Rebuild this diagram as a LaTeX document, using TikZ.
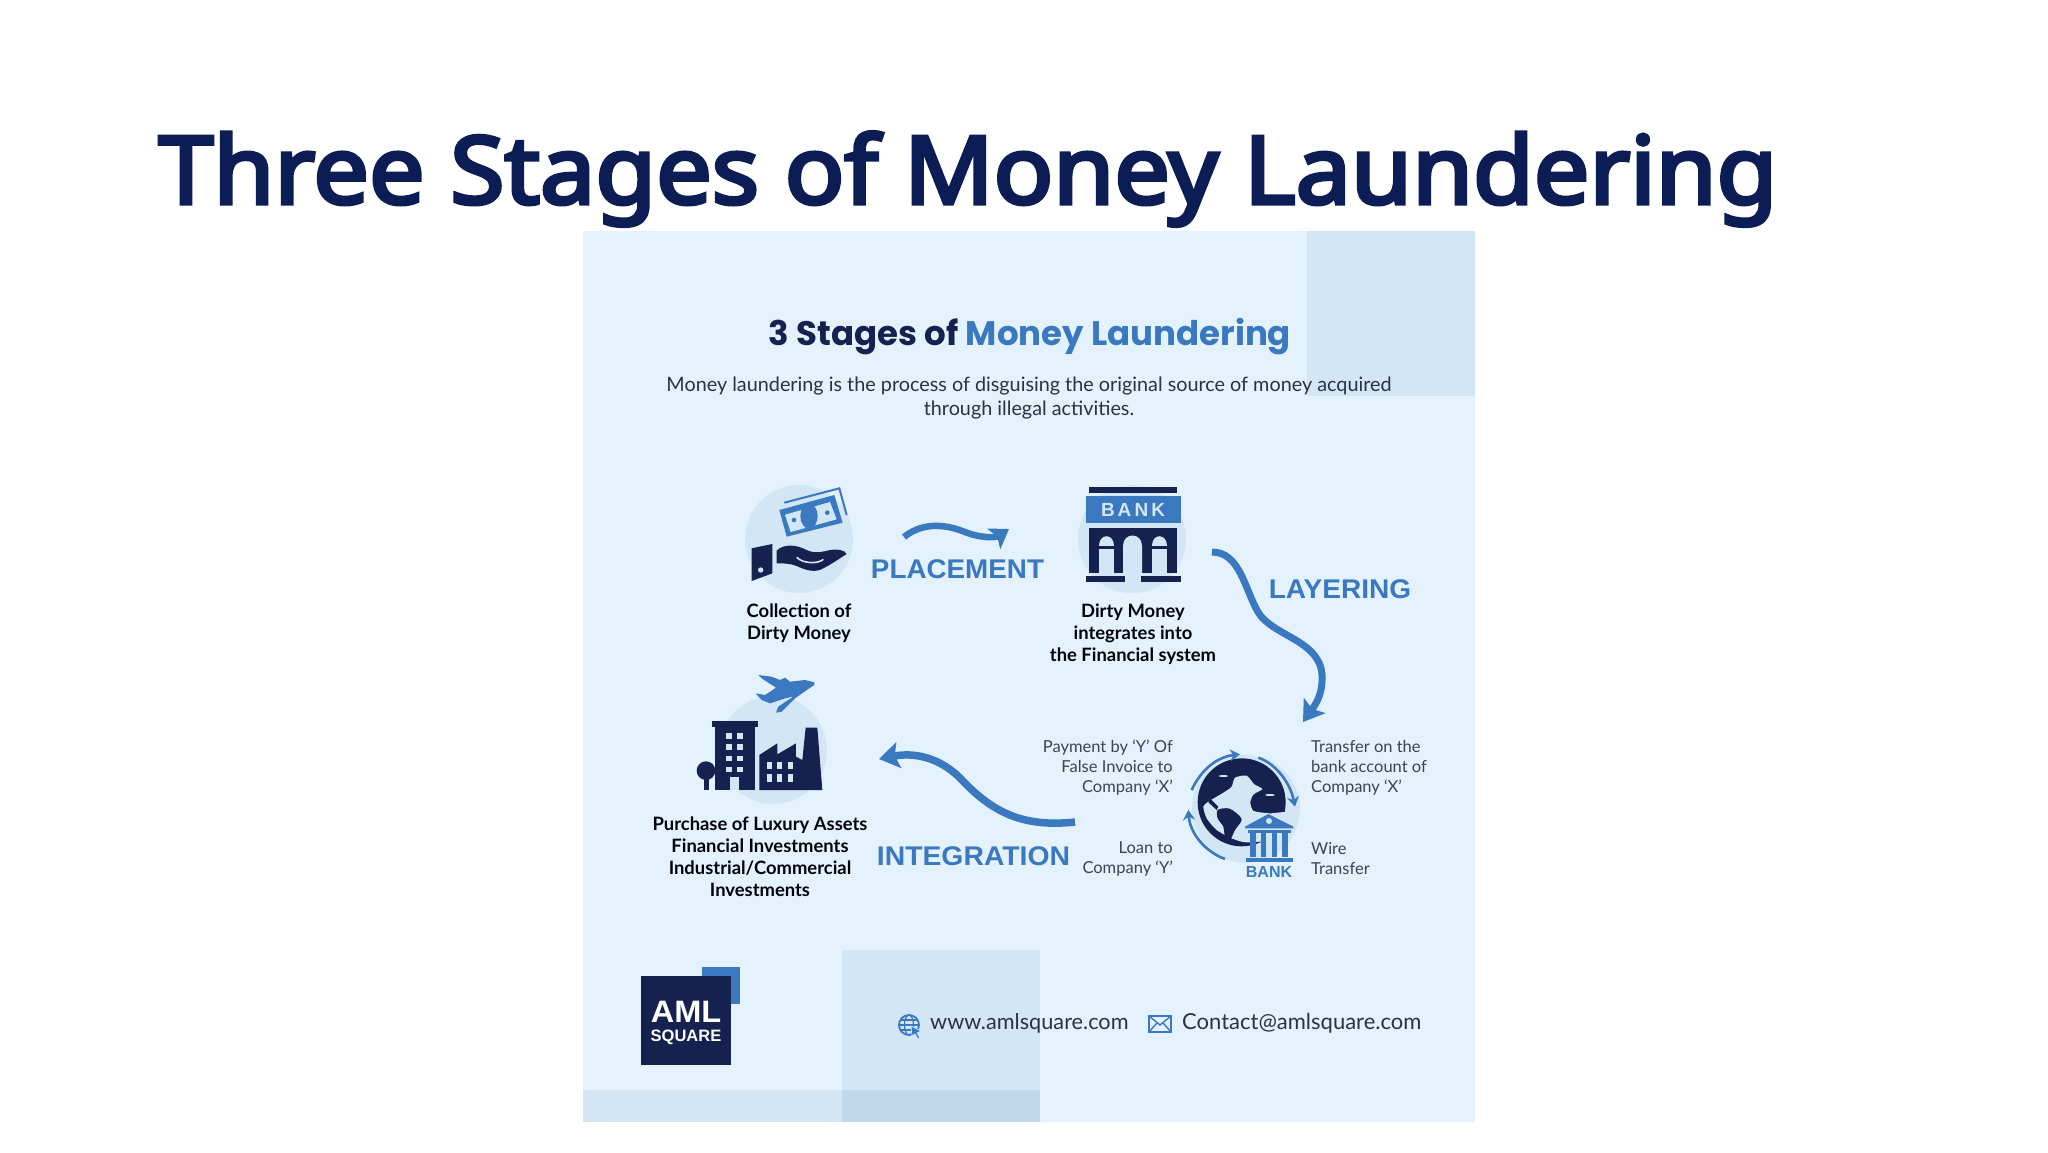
\documentclass[tikz,border=0pt]{standalone}
\usepackage{fontspec}
\setmainfont{Lato}
\newfontfamily\titlef{Noto Sans}[FakeBold=4]
\newfontfamily\headf{Poppins}
\newfontfamily\labf{Liberation Sans}
\usetikzlibrary{arrows.meta}
\definecolor{panel}{HTML}{E3F2FD}
\definecolor{tint}{HTML}{D2E6F5}
\definecolor{tintb}{HTML}{C0D8EC}
\definecolor{navy}{HTML}{15214F}
\definecolor{titlec}{HTML}{0C1D55}
\definecolor{acc}{HTML}{3A78C0}
\definecolor{graytxt}{HTML}{3C4258}
\definecolor{subc}{HTML}{2B3248}
\tikzset{
  icon/.style={shift={#1},scale=0.3333},
  dk/.style={fill=navy},
  bl/.style={fill=acc},
  lt/.style={fill=tint},
  stagelabel/.style={inner sep=0,text=acc,font=\labf\bfseries\fontsize{27}{27}\selectfont},
  caption/.style={inner sep=0,align=center,text=black!90!navy,font=\bfseries\fontsize{18.4}{22}\selectfont},
  notel/.style={inner sep=0,anchor=west,align=left,text=graytxt,font=\fontsize{16.5}{20}\selectfont},
  noter/.style={inner sep=0,anchor=east,align=right,text=graytxt,font=\fontsize{16.5}{20}\selectfont},
  flow/.style={draw=acc,line width=#1},
  smallarc/.style={draw=acc,line width=2.6pt,-{Stealth[length=10pt,width=12pt]}},
}
\begin{document}
\begin{tikzpicture}[x=1pt,y=-1pt]
\useasboundingbox (0,0) rectangle (2048,1152);
\fill[white] (0,0) rectangle (2048,1152);
% panel
\fill[panel] (583,231) rectangle (1475,1122);
\fill[tint] (1307,231) rectangle (1475,396);
\fill[tint] (842,950) rectangle (1040,1122);
\fill[tint] (583,1090) rectangle (1040,1122);
\fill[tintb] (842,1090) rectangle (1040,1122);
% titles
\node[inner sep=0,text=titlec,xscale=1.05,font=\titlef\fontsize{94}{94}\selectfont] (title) at (968,179) {Three Stages of Money Laundering};
\node[inner sep=0,font=\headf\bfseries\fontsize{34}{34}\selectfont] (head) at (1030,337) {\textcolor{navy}{3 Stages of} \textcolor{acc}{Money Laundering}};
\node[inner sep=0,align=center,text=subc,font=\fontsize{19.8}{24.5}\selectfont] (sub) at (1029,398) {Money laundering is the process of disguising the original source of money acquired\\through illegal activities.};
% money icon
\fill[lt] (799,539) circle[radius=54];
\begin{scope}[icon={(740,480)}]
\draw[acc,line width=2pt] (133,68) -- (298,25) -- (320,105);
\fill[bl] (118,90) -- (283,45) -- (308,128) -- (140,170) -- cycle;
\fill[lt] (135,104) -- (270,66) -- (290,118) -- (152,156) -- cycle;
\fill[bl] (207,108) ellipse[x radius=26,y radius=38];
\fill[bl] (162,120) circle[radius=7];
\fill[bl] (262,98) circle[radius=7];
\fill[dk] (35,205) -- (97,192) -- (97,280) -- (35,303) -- cycle;
\fill[lt] (62,270) circle[radius=8];
\fill[dk] (110,212) .. controls (130,192) and (165,192) .. (200,210) .. controls (225,222) and (250,215) .. (270,210) .. controls (290,206) and (315,210) .. (320,222) .. controls (300,235) and (270,255) .. (250,265) .. controls (225,280) and (195,270) .. (170,258) .. controls (150,250) and (130,250) .. (110,250) -- cycle;
\draw[tint,line width=1.6pt] (170,232) .. controls (190,252) and (235,252) .. (250,238);
\end{scope}
\node[caption] (cap1) at (799,623) {Collection of\\Dirty Money};
% bank icon
\fill[lt] (1132,539) circle[radius=54];
\fill[dk] (1089,487) rectangle (1177,493);
\fill[bl] (1086,496) rectangle (1181,523);
\node[inner sep=0,text=tint,font=\labf\bfseries\fontsize{19}{19}\selectfont] (banktxt) at (1133,510) {\addfontfeature{LetterSpace=16}BANK};
\fill[dk] (1089,528) rectangle (1177,573);
\foreach \xa/\xb in {1099/1114,1152/1167}{
  \fill[lt] (\xa,546) .. controls (\xa,533) and (\xb,533) .. (\xb,546) -- cycle;
  \fill[lt] (\xa,549) rectangle (\xb,573);
}
\fill[lt] (1123,573) -- (1123,546) .. controls (1123,532) and (1142,532) .. (1142,546) -- (1142,573) -- cycle;
\fill[dk] (1086,576) rectangle (1125,582);
\fill[dk] (1141,576) rectangle (1181,582);
\node[caption] (cap2) at (1133,634) {Dirty Money\\integrates into\\the Financial system};
% flows
\coordinate (pa) at (904,537);
\coordinate (pb) at (1009,529);
\draw[flow=6.5pt,-{Stealth[length=18pt,width=24pt,inset=4pt]}] (pa) .. controls (925,520) and (950,526) .. (965,532) .. controls (980,538) and (995,538) .. (pb);
\node[stagelabel,xscale=1.03] (placement) at (957.5,569) {PLACEMENT};
\coordinate (la) at (1212,552);
\coordinate (lb) at (1303,722);
\draw[flow=7pt,-{Stealth[length=20pt,width=26pt,inset=4pt]}] (la) .. controls (1240,552) and (1245,590) .. (1258,612) .. controls (1272,636) and (1320,640) .. (1322,675) .. controls (1323,695) and (1315,705) .. (lb);
\node[stagelabel,xscale=1.04] (layering) at (1340,589) {LAYERING};
\coordinate (ia) at (1075,822);
\coordinate (ib) at (879,759);
\draw[flow=7.5pt,-{Stealth[length=20pt,width=26pt,inset=4pt]}] (ia) .. controls (1020,828) and (990,810) .. (960,778) .. controls (940,758) and (915,752) .. (ib);
\node[stagelabel,xscale=1.05] (integration) at (973.5,856) {INTEGRATION};
% globe icon
\fill[lt] (1246,809) circle[radius=54];
\begin{scope}[icon={(1175,745)}]
\fill[dk] (200,172) circle[radius=132];
\fill[lt] plot[smooth cycle,tension=0.4] coordinates {(180,98) (215,92) (238,118) (262,132) (236,148) (226,172) (236,198) (285,205) (335,205) (300,280) (215,292) (170,280) (125,255) (95,220) (85,185) (100,170) (125,155) (150,140) (170,125)};
\fill[lt] (285,150) ellipse[x radius=15,y radius=3];
\fill[lt] (145,93) ellipse[x radius=14,y radius=3];
\fill[dk] plot[smooth cycle,tension=0.5] coordinates {(128,195) (160,190) (185,205) (200,225) (180,255) (165,285) (150,275) (145,245) (128,220)};
\fill[dk] (105,160) -- (130,185) -- (125,195) -- (100,172) -- cycle;
\fill[bl] (210,245) -- (280,207) -- (355,245) -- (355,250) -- (210,250) -- cycle;
\fill[lt] (282,228) circle[radius=9];
\fill[bl] (218,255) rectangle (347,263);
\foreach \xa/\xb in {225/243,258/273,292/307,322/340}{\fill[bl] (\xa,263) rectangle (\xb,336);}
\fill[bl] (212,338) rectangle (353,350);
\coordinate (a1s) at (50,135); \coordinate (a1e) at (195,28);
\coordinate (a2s) at (250,38); \coordinate (a2e) at (360,185);
\coordinate (a3s) at (150,342); \coordinate (a3e) at (40,195);
\draw[smallarc] (a1s) .. controls (80,70) and (130,35) .. (a1e);
\draw[smallarc] (a2s) .. controls (300,55) and (345,110) .. (a2e);
\draw[smallarc] (a3s) .. controls (90,320) and (45,265) .. (a3e);
\end{scope}
\node[inner sep=0,text=acc,font=\labf\bfseries\fontsize{16}{16}\selectfont] (banksmall) at (1269,872) {BANK};
\node[noter] (n1) at (1173,768) {Payment by ‘Y’ Of\\False Invoice to\\Company ‘X’};
\node[notel] (n2) at (1311,768) {Transfer on the\\bank account of\\Company ‘X’};
\node[noter] (n3) at (1173,859) {Loan to\\Company ‘Y’};
\node[notel] (n4) at (1311,859) {Wire\\Transfer};
% city icon
\fill[lt] (773,750) circle[radius=54];
\begin{scope}[icon={(690,665)}]
\fill[bl] (373,52) -- (345,45) -- (300,50) -- (285,38) -- (270,45) -- (245,35) -- (205,30) -- (215,40) -- (258,68) -- (225,90) -- (197,85) -- (215,105) -- (240,115) -- (285,100) -- (310,95) -- (290,108) -- (265,125) -- (258,143) -- (275,140) -- (315,100) -- (355,72) -- (373,60) -- cycle;
\fill[dk] (65,168) rectangle (204,185);
\fill[dk] (75,185) rectangle (195,375);
\fill[lt] (120,335) rectangle (148,375);
\foreach \wy in {204,238,272,305}{
  \fill[lt] (109,\wy) rectangle ++(18,17);
  \fill[lt] (142,\wy) rectangle ++(18,17);
}
\fill[dk] (48,317) circle[radius=28];
\fill[dk] (43,340) rectangle (58,375);
\fill[dk] (208,375) -- (208,270) -- (262,235) -- (262,268) -- (318,235) -- (318,275) -- (337,285) -- (347,188) -- (382,188) -- (397,375) -- cycle;
\foreach \wx in {232,262,293}{
  \fill[lt] (\wx,290) rectangle ++(15,22);
  \fill[lt] (\wx,328) rectangle ++(15,24);
}
\end{scope}
\node[caption] (cap3) at (760,857) {Purchase of Luxury Assets\\Financial Investments\\Industrial/Commercial\\Investments};
% logo
\fill[acc] (702,967) rectangle (740,1004);
\node[fill=navy,minimum width=90pt,minimum height=89pt,inner sep=0] (logo) at (686,1020.5) {};
\node[inner sep=0,text=white,xscale=1.05,font=\labf\bfseries\fontsize{31}{31}\selectfont] (aml) at (686,1012) {AML};
\node[inner sep=0,text=white,font=\labf\bfseries\fontsize{16.5}{16.5}\selectfont] (square) at (686,1037) {SQUARE};
% contacts
\begin{scope}[shift={(909,1025)}]
\draw[acc,line width=1.8pt] (0,0) circle[radius=10];
\draw[acc,line width=1.2pt] (0,0) ellipse[x radius=4.5,y radius=10];
\draw[acc,line width=1.2pt] (-10,0) -- (10,0) (-9,-5) -- (9,-5) (-9,5) -- (9,5);
\fill[acc,draw=panel,line width=0.6pt] (2,1) -- (12,6) -- (8,8) -- (11,13) -- (9,14) -- (6,9) -- (3,11) -- cycle;
\end{scope}
\node[inner sep=0,anchor=west,text=subc,font=\fontsize{21.7}{22}\selectfont] (web) at (930,1023) {www.amlsquare.com};
\draw[acc,line width=2pt,fill=panel] (1149,1016) rectangle (1171,1032);
\draw[acc,line width=1.4pt] (1149,1016) -- (1160,1025) -- (1171,1016) (1149,1032) -- (1157,1023) (1171,1032) -- (1163,1023);
\node[inner sep=0,anchor=west,text=subc,font=\fontsize{22}{22}\selectfont] (mail) at (1182,1023) {Contact@amlsquare.com};
\end{tikzpicture}
\end{document}
